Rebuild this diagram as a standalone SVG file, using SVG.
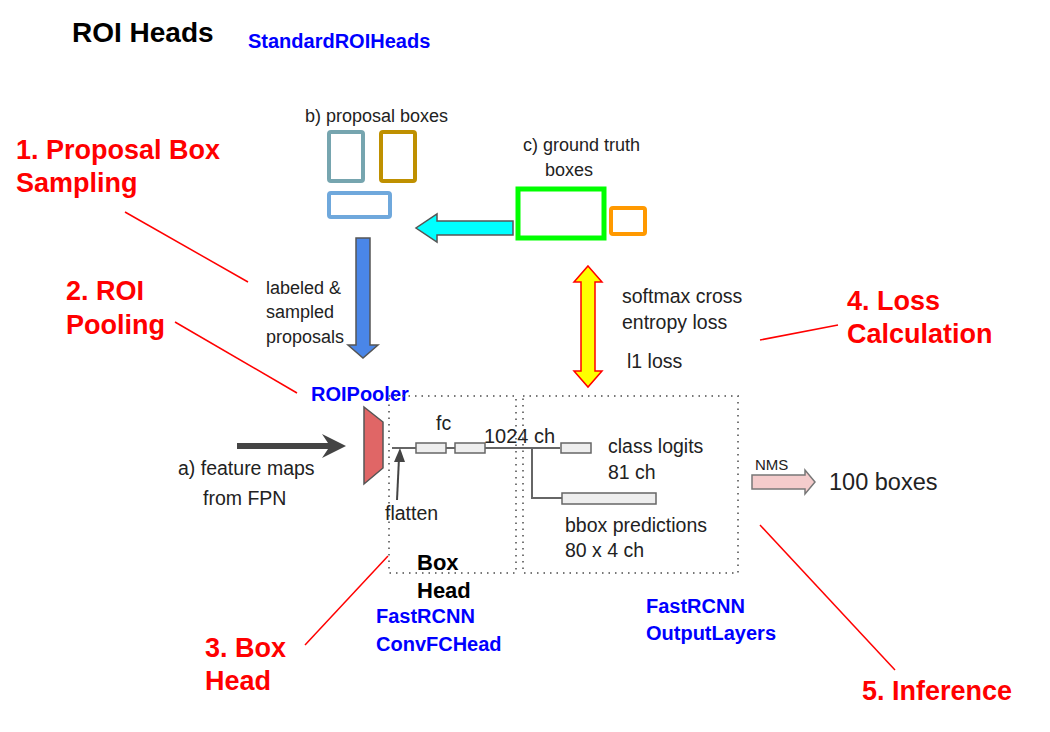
<svg xmlns="http://www.w3.org/2000/svg" width="1050" height="732" viewBox="0 0 1050 732">
<style>
text{font-family:"Liberation Sans",Arial,sans-serif;fill:#222}
.t{font-size:19.5px}
.s{font-size:18px}
.red{fill:#ff0000;font-weight:bold;font-size:27px}
.blue{fill:#0000ff;font-weight:bold;font-size:20px}
.rl{stroke:#ff0000;stroke-width:1.5}
.dot{fill:none;stroke:#777;stroke-width:2;stroke-dasharray:1.5 5}
.fcr{fill:#eee;stroke:#666;stroke-width:1.5}
</style>
<rect width="1050" height="732" fill="#fff"/>
<text x="72" y="42" style="font-size:28px;font-weight:bold;fill:#000">ROI Heads</text>
<text x="248" y="48" class="blue">StandardROIHeads</text>
<g id="proposals">
<text x="305" y="122" class="s">b) proposal boxes</text>
<rect x="329" y="132" width="34" height="49" rx="2" fill="none" stroke="#76a5af" stroke-width="4"/>
<rect x="381" y="132" width="34" height="49" rx="2" fill="none" stroke="#bf9000" stroke-width="4"/>
<rect x="329" y="193" width="61" height="24" rx="2" fill="none" stroke="#6fa8dc" stroke-width="4"/>
</g>
<g id="gt">
<text x="523" y="151" class="s">c) ground truth</text>
<text x="545" y="176" class="s">boxes</text>
<rect x="518" y="189" width="86" height="49" fill="none" stroke="#00ff00" stroke-width="5"/>
<rect x="611" y="208" width="34" height="26" rx="2" fill="none" stroke="#ff9900" stroke-width="4"/>
</g>
<g id="connectors">
<polygon points="513,221 437,221 437,214 416,228 437,242 437,235 513,235" fill="#00ffff" stroke="#555" stroke-width="1.5"/>
<polygon points="356,238 370,238 370,345 378,345 363,358 348,345 356,345" fill="#4a86e8" stroke="#555" stroke-width="1.5"/>
<polygon points="588,266 602,282 595,282 595,371 602,371 588,387 574,371 581,371 581,282 574,282" fill="#ffff00" stroke="#ff0000" stroke-width="1.5"/>
<line x1="237" y1="446" x2="330" y2="446" stroke="#444" stroke-width="6"/>
<polygon points="322,434 346,446 322,458 330,446" fill="#444"/>
<polyline points="392,448 560,448" fill="none" stroke="#666" stroke-width="2"/>
<polyline points="532,448 532,498 562,498" fill="none" stroke="#666" stroke-width="2"/>
<line x1="397" y1="500" x2="399" y2="458" stroke="#444" stroke-width="2"/>
<polygon points="394,462 400,448 405,462" fill="#444"/>
<polygon points="752,475 805,475 805,470 815,482 805,494 805,489 752,489" fill="#f4cccc" stroke="#777" stroke-width="1.5"/>
<line class="rl" x1="125" y1="212" x2="248" y2="282"/>
<line class="rl" x1="175" y1="322" x2="297" y2="393"/>
<line class="rl" x1="760" y1="340" x2="838" y2="325"/>
<line class="rl" x1="305" y1="645" x2="388" y2="556"/>
<line class="rl" x1="760" y1="525" x2="895" y2="670"/>
</g>
<text x="266" y="294" class="s">labeled &amp;</text>
<text x="266" y="318" class="s">sampled</text>
<text x="266" y="343" class="s">proposals</text>
<text x="622" y="303" class="t">softmax cross</text>
<text x="622" y="329" class="t">entropy loss</text>
<text x="627" y="368" class="t">l1 loss</text>
<text x="16" y="159" class="red">1. Proposal Box</text>
<text x="16" y="192" class="red">Sampling</text>
<text x="66" y="300" class="red">2. ROI</text>
<text x="66" y="334" class="red">Pooling</text>
<text x="847" y="310" class="red">4. Loss</text>
<text x="847" y="343" class="red">Calculation</text>
<text x="205" y="657" class="red">3. Box</text>
<text x="205" y="690" class="red">Head</text>
<text x="862" y="700" class="red">5. Inference</text>
<g id="pooler">
<text x="311" y="401" class="blue">ROIPooler</text>
<polygon points="364,407 383,422 383,468 364,484" fill="#e06666" stroke="#555" stroke-width="1.5"/>
</g>
<text x="178" y="475" class="t">a) feature maps</text>
<text x="203" y="505" class="t">from FPN</text>
<g id="boxhead">
<rect x="389" y="396" width="127" height="177" class="dot"/>
<rect x="416" y="443" width="30" height="10" class="fcr"/>
<rect x="455" y="443" width="30" height="10" class="fcr"/>
<text x="436" y="430" class="t">fc</text>
<text x="385" y="520" class="t">flatten</text>
<text x="417" y="570" style="font-size:22px;font-weight:bold;fill:#000">Box</text>
<text x="417" y="598" style="font-size:22px;font-weight:bold;fill:#000">Head</text>
<text x="376" y="623" class="blue">FastRCNN</text>
<text x="376" y="651" class="blue">ConvFCHead</text>
</g>
<text x="484" y="443" style="font-size:20px">1024 ch</text>
<g id="outputs">
<rect x="523" y="396" width="215" height="177" class="dot"/>
<rect x="561" y="443" width="30" height="10" class="fcr"/>
<rect x="562" y="493" width="94" height="11" class="fcr"/>
<text x="608" y="453" class="t">class logits</text>
<text x="608" y="479" class="t">81 ch</text>
<text x="565" y="532" class="t">bbox predictions</text>
<text x="565" y="557" class="t">80 x 4 ch</text>
<text x="646" y="613" class="blue">FastRCNN</text>
<text x="646" y="640" class="blue">OutputLayers</text>
</g>
<g id="nms">
<text x="755" y="470" style="font-size:15px">NMS</text>
<text x="829" y="490" style="font-size:23.5px">100 boxes</text>
</g>
</svg>
